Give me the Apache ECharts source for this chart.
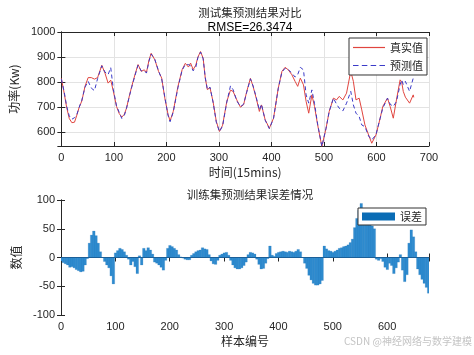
<!DOCTYPE html>
<html><head><meta charset="utf-8">
<script src="https://cdn.jsdelivr.net/npm/echarts@6/dist/echarts.min.js"></script>
<style>html,body{margin:0;padding:0;background:#fff}#c{width:474px;height:355px}</style>
</head><body><div id="c"></div>
<script>
// ---- Top chart: test set (sample index, true values, predicted values)
const testIdx = [0,5,10,15,20,25,29,34,39,45,51,57,63,69,77,83,89,94,99,105,110,115,120,124,130,134,140,146,152,158,162,167,171,178,185,191,197,203,207,213,222,230,236,242,246,251,256,260,265,270,274,278,283,289,295,301,307,315,322,327,334,341,347,353,360,365,371,377,381,388,396,404,413,420,426,432,439,445,450,455,461,466,471,477,482,488,496,504,510,518,524,529,536,543,551,556,561,567,572,578,585,591,599,607,612,621,626,632,638,645,648,651,655,663,670,671];
const actualVals = [815,760,700,655,638,640,665,700,725,783,818,818,812,818,867,836,796,808,763,703,675,660,672,696,750,783,829,870,843,849,838,889,915,889,843,816,736,672,645,683,783,850,875,860,876,850,868,900,922,895,816,770,778,720,643,603,628,723,768,763,729,700,710,763,815,783,736,683,709,650,616,656,776,843,859,849,829,803,783,816,789,723,676,749,703,629,543,616,683,736,729,743,729,756,843,803,729,736,689,629,589,556,589,656,703,736,703,656,729,809,800,763,740,716,749,739];
const predVals = [812,765,705,665,652,658,668,700,728,780,803,776,766,814,865,840,830,858,770,705,680,655,668,695,748,780,825,868,845,845,836,885,912,890,845,813,740,668,642,680,778,848,870,870,865,845,860,898,920,893,818,770,780,718,640,602,625,720,785,770,725,702,712,760,813,785,740,688,712,648,614,655,775,840,855,850,836,820,830,859,849,749,716,769,715,632,543,616,683,736,712,696,685,716,763,709,676,663,629,622,585,569,590,656,696,736,712,703,722,790,809,790,803,763,816,812];
const testXTicks = [0,100,200,300,400,500,600,700];
const testYTicks = [600,700,800,900,1000];

// ---- Bottom chart: training-set errors, one value every 4 samples
const errVals = [-6,-9,-11,-13,-17,-16,-18,-21,-23,-25,-24,-13,-2,25,39,46,38,25,10,0,-7,-13,-18,-32,-46,8,12,16,14,10,4,-3,-13,-7,-16,-28,3,-13,16,12,17,13,6,-8,-10,-13,-17,-22,-5,16,21,19,16,13,5,1,-1,-3,-4,-4,4,7,10,12,13,17,15,14,5,-6,-11,-12,-5,4,6,8,9,4,-5,-13,-18,-20,-20,-18,-14,-8,5,9,8,6,-3,-12,-20,-19,-10,-2,20,4,2,7,9,10,11,10,9,11,10,9,11,14,10,0,-10,-19,-31,-39,-45,-48,-48,-46,-40,20,15,12,11,9,11,13,16,17,19,20,22,26,32,52,68,82,94,68,62,60,60,55,50,-3,-5,-2,-7,-17,-21,-10,-14,-28,-18,-8,5,-22,-42,-30,25,48,36,10,-20,-30,-38,-45,-52,-62];
const errStep = 4;
const errSample = errVals.map((_, i) => i * errStep);

const chart = echarts.init(document.getElementById('c'), null, {renderer: 'canvas'});
const txt = '#262626';
const cjk = '"Noto Sans CJK SC", sans-serif';
const latin = '"Liberation Sans", Arial, sans-serif';
const fmt100 = v => (v % 100 === 0 ? String(v) : '');
const redC = '#e0453f', blueC = '#3b3bc8', barC = '#2e8bcf', barEdge = '#2374b8';
const baseAxis = {
  axisLine: {show: true, lineStyle: {color: txt, width: 1}},
  axisTick: {show: true, inside: true, length: 4, lineStyle: {color: txt}},
  axisLabel: {color: txt, fontSize: 11, fontFamily: latin, margin: 6},
};
const mirror = (extra) => Object.assign({
  axisLine: {show: true, lineStyle: {color: txt, width: 1}},
  axisTick: {show: true, inside: true, length: 4, lineStyle: {color: txt}},
  axisLabel: {show: false}, splitLine: {show: false}
}, extra);

function renderBar(params, api) {
  const x = api.value(0), v = api.value(1);
  const top = api.coord([x, v]);
  const base = api.coord([x, 0]);
  const w = api.size([errStep, 0])[0];
  return {
    type: 'rect',
    shape: {x: top[0] - w / 2, y: Math.min(top[1], base[1]), width: w + 0.4, height: Math.abs(base[1] - top[1])},
    style: {fill: barC, stroke: barEdge, lineWidth: 0.2}
  };
}

const option = {
  animation: false,
  backgroundColor: '#fff',
  title: [
    {text: '测试集预测结果对比', left: 245, top: 2, textAlign: 'center',
     textStyle: {fontFamily: cjk, fontSize: 11.5, fontWeight: 'normal', color: txt}},
    {text: 'RMSE=26.3474', left: 245, top: 17, textAlign: 'center',
     textStyle: {fontFamily: latin, fontSize: 12, fontWeight: 'normal', color: '#000'}},
    {text: '训练集预测结果误差情况', left: 245, top: 184, textAlign: 'center',
     textStyle: {fontFamily: cjk, fontSize: 11.5, fontWeight: 'normal', color: txt}}
  ],
  grid: [
    {left: 61, top: 32, width: 368, height: 114, show: false},
    {left: 61, top: 200, width: 368, height: 115, show: false}
  ],
  legend: [
    {data: [
       {name: '真实值', icon: 'path://M0,0h32v1.2h-32z', itemStyle: {color: redC, borderWidth: 0}},
       {name: '预测值', icon: 'path://M0,0h5v1.2h-5zM8,0h5v1.2h-5zM16,0h5v1.2h-5zM24,0h5v1.2h-5z', itemStyle: {color: blueC, borderWidth: 0}}
     ],
     orient: 'vertical', left: 349, top: 38, symbolKeepAspect: false,
     itemWidth: 32, itemHeight: 1.2, itemGap: 7, padding: [4, 4, 4, 4],
     borderColor: '#333', borderWidth: 1, backgroundColor: '#fff', borderRadius: 0,
     textStyle: {fontFamily: cjk, fontSize: 11, color: txt}},
    {data: [{name: '误差', itemStyle: {color: '#0a6cb5', borderWidth: 0}}], left: 358, top: 208, icon: 'rect',
     itemWidth: 33, itemHeight: 8, padding: [3, 4, 3, 4],
     borderColor: '#333', borderWidth: 1, backgroundColor: '#fff',
     textStyle: {fontFamily: cjk, fontSize: 11, color: txt}}
  ],
  xAxis: [
    Object.assign({}, baseAxis, {type: 'value', gridIndex: 0, min: 0, max: 700, interval: 100,
      name: '时间(15mins)', nameLocation: 'middle', nameGap: 20,
      nameTextStyle: {fontFamily: cjk, fontSize: 12, color: txt},
      axisLabel: Object.assign({}, baseAxis.axisLabel, {formatter: v => (testXTicks.includes(v) ? String(v) : '')}),
      splitLine: {show: true, lineStyle: {color: '#e3e3e3', width: 1}}}),
    mirror({type: 'value', gridIndex: 0, position: 'top', min: 0, max: 700, interval: 100}),
    Object.assign({}, baseAxis, {type: 'value', gridIndex: 1, min: 0, max: 677, interval: 100,
      name: '样本编号', nameLocation: 'middle', nameGap: 20,
      nameTextStyle: {fontFamily: cjk, fontSize: 12, color: txt},
      axisLabel: Object.assign({}, baseAxis.axisLabel, {formatter: fmt100}),
      splitLine: {show: false}}),
    mirror({type: 'value', gridIndex: 1, position: 'top', min: 0, max: 677, interval: 100})
  ],
  yAxis: [
    Object.assign({}, baseAxis, {type: 'value', gridIndex: 0, min: 545, max: 1000, splitNumber: 5,
      name: '功率(Kw)', nameLocation: 'middle', nameGap: 34,
      nameTextStyle: {fontFamily: cjk, fontSize: 12, color: txt},
      axisLabel: Object.assign({}, baseAxis.axisLabel, {formatter: v => (testYTicks.includes(v) ? String(v) : '')}),
      splitLine: {show: true, lineStyle: {color: '#e3e3e3', width: 1}}}),
    mirror({type: 'value', gridIndex: 0, position: 'right', min: 545, max: 1000, splitNumber: 5}),
    Object.assign({}, baseAxis, {type: 'value', gridIndex: 1, min: -100, max: 100, interval: 50,
      name: '数值', nameLocation: 'middle', nameGap: 34,
      nameTextStyle: {fontFamily: cjk, fontSize: 12, color: txt},
      splitLine: {show: false}}),
    mirror({type: 'value', gridIndex: 1, position: 'right', min: -100, max: 100, interval: 50})
  ],
  series: [
    {name: '真实值', type: 'line', xAxisIndex: 0, yAxisIndex: 0, symbol: 'none',
     data: testIdx.map((x, i) => [x, actualVals[i]]),
     lineStyle: {color: redC, width: 1}, itemStyle: {color: redC}, z: 3},
    {name: '预测值', type: 'line', xAxisIndex: 0, yAxisIndex: 0, symbol: 'none',
     data: testIdx.map((x, i) => [x, predVals[i]]),
     lineStyle: {color: blueC, width: 1, type: [4, 3]}, itemStyle: {color: blueC}, z: 4},
    {name: '误差', type: 'custom', xAxisIndex: 2, yAxisIndex: 2, renderItem: renderBar,
     encode: {x: 0, y: 1}, clip: true,
     data: errSample.map((x, i) => [x, errVals[i]]),
     itemStyle: {color: barC}},
    {type: 'line', xAxisIndex: 2, yAxisIndex: 2, symbol: 'none', silent: true,
     data: [[0, 0], [677, 0]], lineStyle: {color: '#1b5f98', width: 1}, z: 5}
  ],
  graphic: [
    {type: 'text', left: 344, top: 336, style: {text: 'CSDN @神经网络与数学建模', fill: '#c4c4c4', font: '10px "Noto Sans CJK SC", sans-serif'}}
  ]
};
chart.setOption(option);
</script>
</body></html>
